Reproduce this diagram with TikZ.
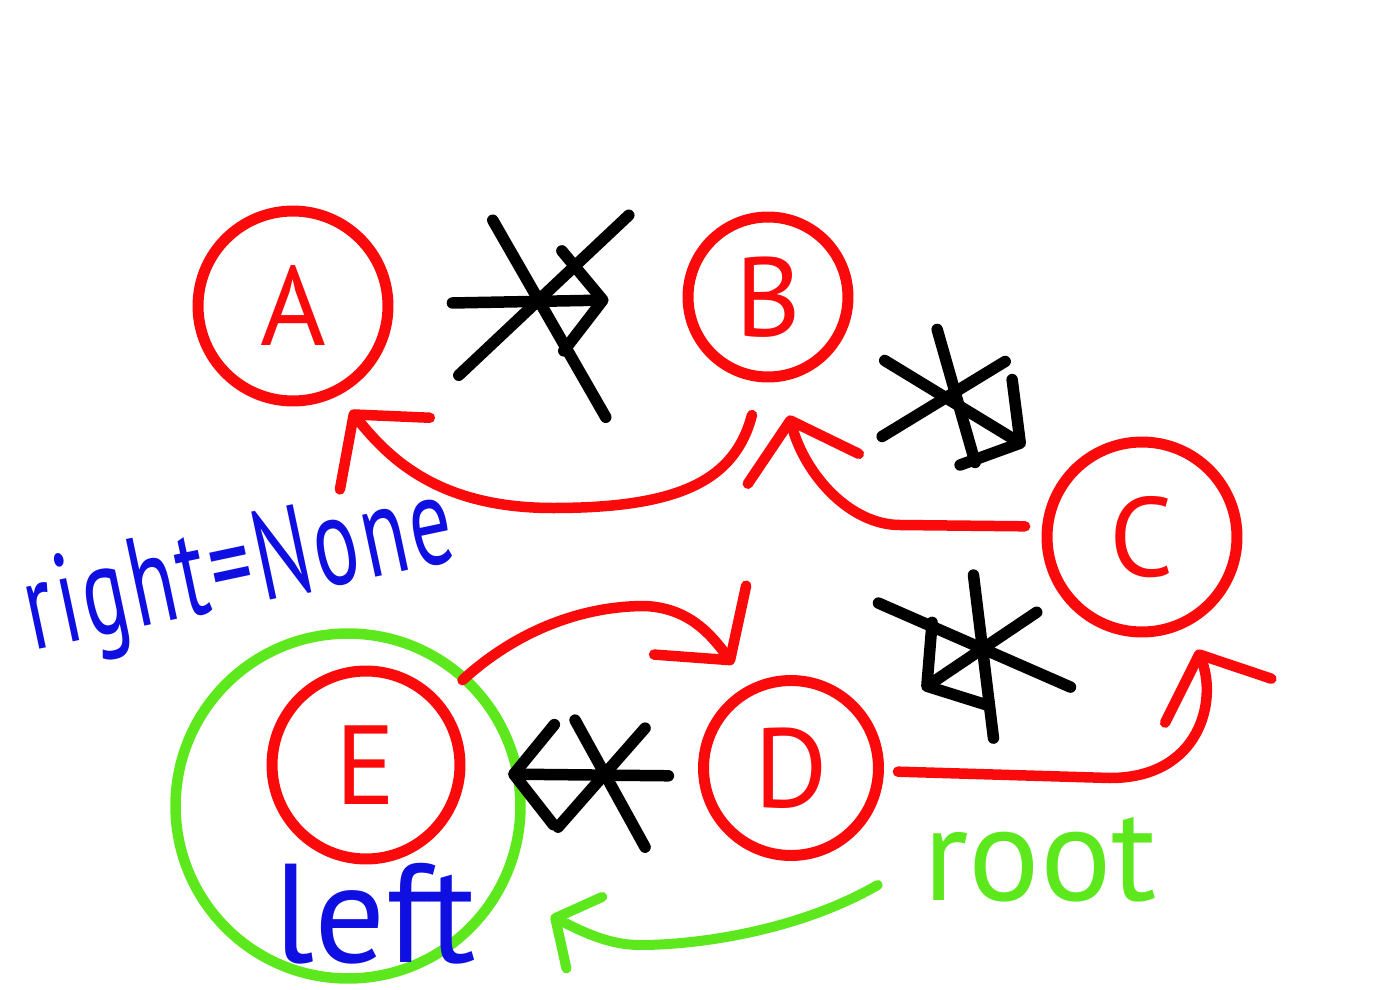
\documentclass[tikz,border=0pt]{standalone}
\usepackage{fontspec}
\setmainfont{PT Sans}
\newfontfamily\squeezed[FakeStretch=0.66,LetterSpace=3]{PT Sans}
\usepackage{tikz}
\usetikzlibrary{arrows.meta,calc}
\definecolor{inkred}{RGB}{250,10,10}
\definecolor{inkblue}{RGB}{15,15,225}
\definecolor{inkgreen}{RGB}{92,232,28}

\begin{document}
\begin{tikzpicture}[
  x=0.02cm, y=-0.02cm,
  vtx/.style={circle, draw=inkred, line width=0.22cm, text=inkred, inner sep=0pt,
              font=\fontsize{64}{64}\selectfont},
  grp/.style={circle, draw=inkgreen, line width=0.21cm, minimum size=6.9cm, inner sep=0pt},
  note/.style={text=inkblue, inner sep=0pt},
  hint/.style={text=inkgreen, inner sep=0pt, font=\fontsize{76}{76}\selectfont},
  line/.style={draw=inkred, line width=0.21cm, line cap=round, line join=round,
               -{Straight Barb[length=1cm,width=2.3cm,round]}},
  blocked/.style={draw=black, line width=0.23cm, line cap=round,
                  -{Straight Barb[length=0.8cm,width=2cm,round]}},
  cut/.style={draw=black, line width=0.23cm, line cap=round},
  glink/.style={draw=inkgreen, line width=0.2cm, line cap=round, line join=round,
                -{Straight Barb[length=0.65cm,width=1.6cm,round]}},
]
\useasboundingbox (0,0) rectangle (1400,990);

\node[vtx, minimum size=3.8cm] (A) at (293,306) {A};
\node[vtx, minimum size=3.2cm] (B) at (768,297) {B};
\node[vtx, minimum size=3.8cm] (C) at (1142,537) {C};
\node[vtx, minimum size=3.5cm] (D) at (791,768) {D};
\node[vtx, minimum size=3.76cm] (E) at (366,765) {E};
\node[grp] (leftgrp) at (348,806) {};

\node[note, anchor=base, font=\fontsize{80}{80}\selectfont] (lefttag) at (375,962) {left};
\node[note, rotate=12, font=\squeezed\fontsize{72}{72}\selectfont] (nonetag) at (240,574) {right=None};
\node[hint, anchor=base] (root) at (1040,900) {root};

\draw[line, shorten <=0.68cm, shorten >=0.38cm] (B.265) .. controls (735,480) and (680,508) .. (553,508)
  .. controls (440,508) and (390,460) .. (A.297);
\draw[line, shorten <=0.34cm, shorten >=0.7cm] (C.174) -- (900,525) .. controls (850,525) and (805,475) .. (B.278);
\draw[line, shorten <=0.58cm, shorten >=0.52cm] (E.41) .. controls (515,632) and (580,606) .. (645,606)
  .. controls (690,608) and (712,636) .. (D.117);
\draw[line, shorten <=0.28cm, shorten >=0.5cm] (D.-2) -- (1110,778) .. controls (1200,778) and (1218,700) .. (C.297);

\draw[blocked, shorten <=1.18cm, shorten >=1.48cm] (A) -- coordinate[pos=0.52] (abx) (B);
\draw[cut] ($(abx)+(-85,74)$) -- ($(abx)+(85,-86)$);
\draw[cut] ($(abx)+(-51,-81)$) -- ($(abx)+(62,116)$);

\draw[blocked, shorten <=0.95cm, shorten >=0.96cm] (B.-27) -- coordinate[pos=0.5] (bcx) (C.139);
\draw[cut] ($(bcx)+(-73,33)$) -- ($(bcx)+(50,-42)$);
\draw[cut] ($(bcx)+(-18,-74)$) -- ($(bcx)+(20,59)$);

\draw[blocked, shorten <=0.58cm, shorten >=1.2cm] (C.216) -- coordinate[pos=0.41] (cdx) (D.29);
\draw[cut] ($(cdx)+(-105,-45)$) -- ($(cdx)+(87,39)$);
\draw[cut] ($(cdx)+(-10,-73)$) -- ($(cdx)+(10,90)$);

\draw[blocked, shorten <=0.6cm, shorten >=0.86cm] (D.185) -- coordinate[pos=0.4] (dex) (E.-5);
\draw[cut] ($(dex)+(-30,-55)$) -- ($(dex)+(40,72)$);
\draw[cut] ($(dex)+(40,-47)$) -- ($(dex)+(-47,52)$);

\draw[glink, shorten >=1.06cm] ($(root.base west)+(-45,-15)$) .. controls (800,930) and (700,945) .. (640,945)
  .. controls (610,945) and (585,933) .. (leftgrp.331);
\end{tikzpicture}
\end{document}
